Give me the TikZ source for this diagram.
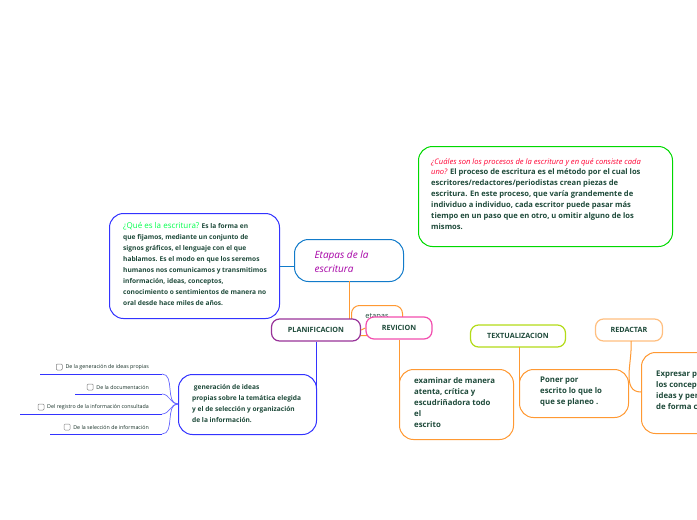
\documentclass[tikz,border=0pt]{standalone}
\usepackage{fontspec}
\setmainfont{Open Sans}
\usetikzlibrary{positioning}
\definecolor{txt}{HTML}{1E4A3A}
\tikzset{
  topic/.style={draw, rounded corners=14pt, line width=1pt, fill=white, align=left,
    inner sep=0pt, anchor=north west},
  note/.style={anchor=north west, align=left, text=txt, inner sep=0pt,
    font=\bfseries\fontsize{6.6}{11}\selectfont},
  stage/.style={draw, rounded corners=8pt, line width=1.2pt, fill=white,
    font=\bfseries\fontsize{7.2}{8}\selectfont, text=txt, minimum height=22pt},
  item/.style={font=\fontsize{5.3}{6}\selectfont, text=txt!60!black, anchor=south east, inner sep=1pt},
  link/.style={line width=1pt}
}
\begin{document}
\begin{tikzpicture}[x=1pt,y=-1pt]
\useasboundingbox (0,0) rectangle (697,520);
\clip (0,0) rectangle (697,520);
% central topic and notes
\node[topic, draw=green!85!black, minimum width=254pt, minimum height=100pt] (que) at (418,146) {};
\node[note, font=\bfseries\fontsize{7.6}{10.9}\selectfont] at (431,158)
  {{\mdseries\itshape\color{red!80!magenta}¿Cuáles son los procesos de la escritura y en qué consiste cada}\\
   {\mdseries\itshape\color{red!80!magenta}uno?} El proceso de escritura es el método por el cual los\\
   escritores/redactores/periodistas crean piezas de\\
   escritura. En este proceso, que varía grandemente de\\
   individuo a individuo, cada escritor puede pasar más\\
   tiempo en un paso que en otro, u omitir alguno de los\\
   mismos.};
\node[topic, draw=blue!80, minimum width=170pt, minimum height=105pt] (def) at (109,213) {};
\node[note] at (123,222)
  {{\mdseries\fontsize{8}{11}\selectfont\color{green!70!cyan}¿Qué es la escritura?} Es la forma en\\
   que fijamos, mediante un conjunto de\\
   signos gráficos, el lenguaje con el que\\
   hablamos. Es el modo en que los seremos\\
   humanos nos comunicamos y transmitimos\\
   información, ideas, conceptos,\\
   conocimiento o sentimientos de manera no\\
   oral desde hace miles de años.};
\node[topic, draw=cyan!60!blue, minimum width=109pt, minimum height=42pt] (root) at (294,239) {};
\node[anchor=west, align=left, font=\itshape\fontsize{10}{14}\selectfont, text=violet!70!magenta] at (311,262) {Etapas de la\\escritura};
\node[draw=orange!80, rounded corners=8pt, line width=1pt, minimum width=51pt, minimum height=30pt,
  anchor=north west] (etapas) at (351,305) {};
\node[font=\fontsize{7.5}{9}\selectfont, text=txt] at (377,317) {etapas};
\draw[link, orange!80] (349,281) -- (349,330);
\draw[link, cyan!60!blue] (def.east |- 0,266) -- (root.west |- 0,266);
% stages
\node[stage, draw=violet!80, minimum width=89pt] (plan) at (316,330) {PLANIFICACION};
\node[stage, draw=magenta!70, minimum width=66pt] (rev) at (399,328) {REVICION};
\node[stage, draw=yellow!70!green, minimum width=95pt] (tex) at (518,336) {TEXTUALIZACION};
\node[stage, draw=orange!50, minimum width=67pt] (red) at (629,330) {REDACTAR};
\draw[link, orange!80] (plan.east) -- (rev.west);
% details
\node[topic, draw=blue!80, minimum width=138pt, minimum height=60pt] (gen) at (178,374) {};
\node[note] at (192,384) {\ generación de ideas\\propias sobre la temática elegida\\y el de selección y organización\\de la información.};
\node[topic, draw=orange!80, minimum width=114pt, minimum height=70pt] (exa) at (399,369) {};
\node[note, font=\bfseries\fontsize{7.8}{11}\selectfont] at (414,377) {examinar de manera\\atenta, crítica y\\escudriñadora todo\\el\\escrito};
\node[topic, draw=orange!80, minimum width=109pt, minimum height=48pt] (pon) at (519,369) {};
\node[note, font=\bfseries\fontsize{7.8}{11}\selectfont] at (540,377) {Poner por\\escrito lo que lo\\que se planeo .};
\node[topic, draw=orange!80, minimum width=80pt, minimum height=81pt] (exp) at (641,352) {};
\node[note, font=\bfseries\fontsize{7.8}{11}\selectfont] at (656,370) {Expresar por escrito\\los conceptos,\\ideas y pensamientos\\de forma clara};
\draw[link, blue!80] (plan.south) -- (316,395);
\draw[link, orange!80] (rev.south) -- (399,404);
\draw[link, orange!80] (519,347) -- (519,393);
\draw[link, orange!80] (631,341) to[out=-85,in=180] (641,392);
% checklist
\foreach \y/\xa/\t [count=\i] in {374/40/De la generación de ideas propias, 394/75/De la documentación,
    414/20/Del registro de la información consultada, 434/50/De la selección de información} {
  \coordinate (c\i) at (162,\y);
  \draw[link, blue!80] (\xa,\y) -- (c\i);
  \node[item] (it\i) at (150,\y-3) {\t};
  \draw[gray, rounded corners=1pt, line width=0.5pt] ([xshift=-2pt]it\i.south west) ++(-6,-1) rectangle ++(6,-6);
  \draw[blue!60, line width=0.7pt] (178,404) to[out=180,in=0] (c\i);
}
\end{tikzpicture}
\end{document}
